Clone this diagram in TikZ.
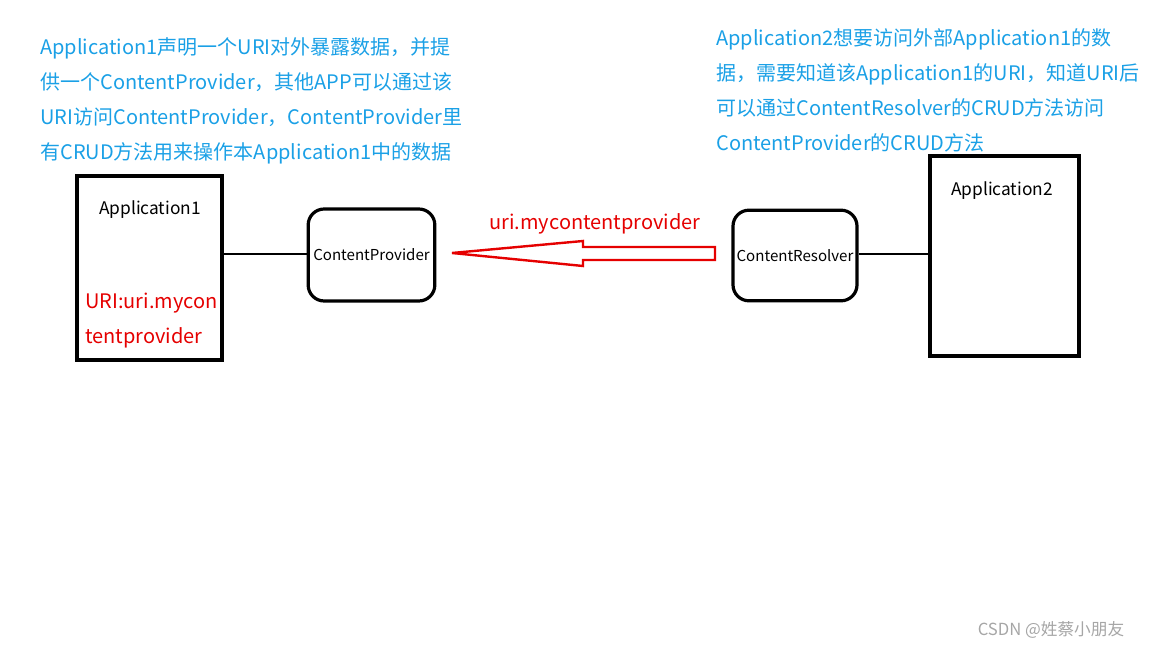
\documentclass[tikz,border=0pt]{standalone}
\usepackage{fontspec}
\setmainfont{Noto Sans CJK SC}
\begin{document}
\begin{tikzpicture}[x=0.75pt,y=-0.75pt,
  box/.style={draw=black,line width=3pt},
  rbox/.style={draw=black,line width=2.4pt,rounded corners=12pt},
  bluetxt/.style={anchor=base west,inner sep=0,font=\fontsize{15}{16}\selectfont},
  redtxt/.style={anchor=base west,inner sep=0,text=red!90!black,font=\fontsize{15}{16}\selectfont},
  conn/.style={draw=black,line width=2pt}]
\useasboundingbox (0,0) rectangle (1152,648);
\definecolor{tblue}{HTML}{1AA0E6}
\tikzset{bluetxt/.append style={text=tblue}}
\node[box,minimum width=108.75pt,minimum height=138pt] (app1) at (149.5,268) {};
\node[anchor=center,font=\fontsize{13}{14}\selectfont] (app1t) at (150,210) {Application1};
\node[redtxt] (u1) at (85,309) {URI:uri.mycon};
\node[redtxt] (u2) at (85,344) {tentprovider};
\node[rbox,minimum width=95pt,minimum height=69pt,inner sep=0] (cp) at (371.5,255) {\fontsize{11.3}{12}\selectfont ContentProvider};
\node[rbox,minimum width=93pt,minimum height=68pt,inner sep=0] (cr) at (795,255.5) {\fontsize{11.3}{12}\selectfont ContentResolver};
\node[box,minimum width=111.75pt,minimum height=150pt] (app2) at (1004.5,256) {};
\node[anchor=center,font=\fontsize{13}{14}\selectfont] (app2t) at (1002,191) {Application2};
\draw[conn] (app1.east |- 0,254) -- (cp.west |- 0,254);
\draw[conn] (cr.east |- 0,254) -- (app2.west |- 0,254);
\draw[red!90!black,line width=1.8pt,line join=miter] (452,253) -- (583,241) -- (583,247) -- (715,247) -- (715,260) -- (583,260) -- (583,266) -- cycle;
\node[anchor=center,text=red!90!black,font=\fontsize{15}{16}\selectfont] (lbl) at (595,224) {uri.mycontentprovider};
\node[bluetxt] at (40,55) {Application1声明一个URI对外暴露数据，并提};
\node[bluetxt] at (40,90) {供一个ContentProvider，其他APP可以通过该};
\node[bluetxt] at (40,125) {URI访问ContentProvider，ContentProvider里};
\node[bluetxt] at (40,160) {有CRUD方法用来操作本Application1中的数据};
\node[bluetxt] at (716,46) {Application2想要访问外部Application1的数};
\node[bluetxt] at (716,81) {据，需要知道该Application1的URI，知道URI后};
\node[bluetxt] at (716,116) {可以通过ContentResolver的CRUD方法访问};
\node[bluetxt] at (716,151) {ContentProvider的CRUD方法};
\node[anchor=center,text=gray!70,font=\fontsize{12.5}{14}\selectfont] at (1051,630) {CSDN @姓蔡小朋友};
\end{tikzpicture}
\end{document}
